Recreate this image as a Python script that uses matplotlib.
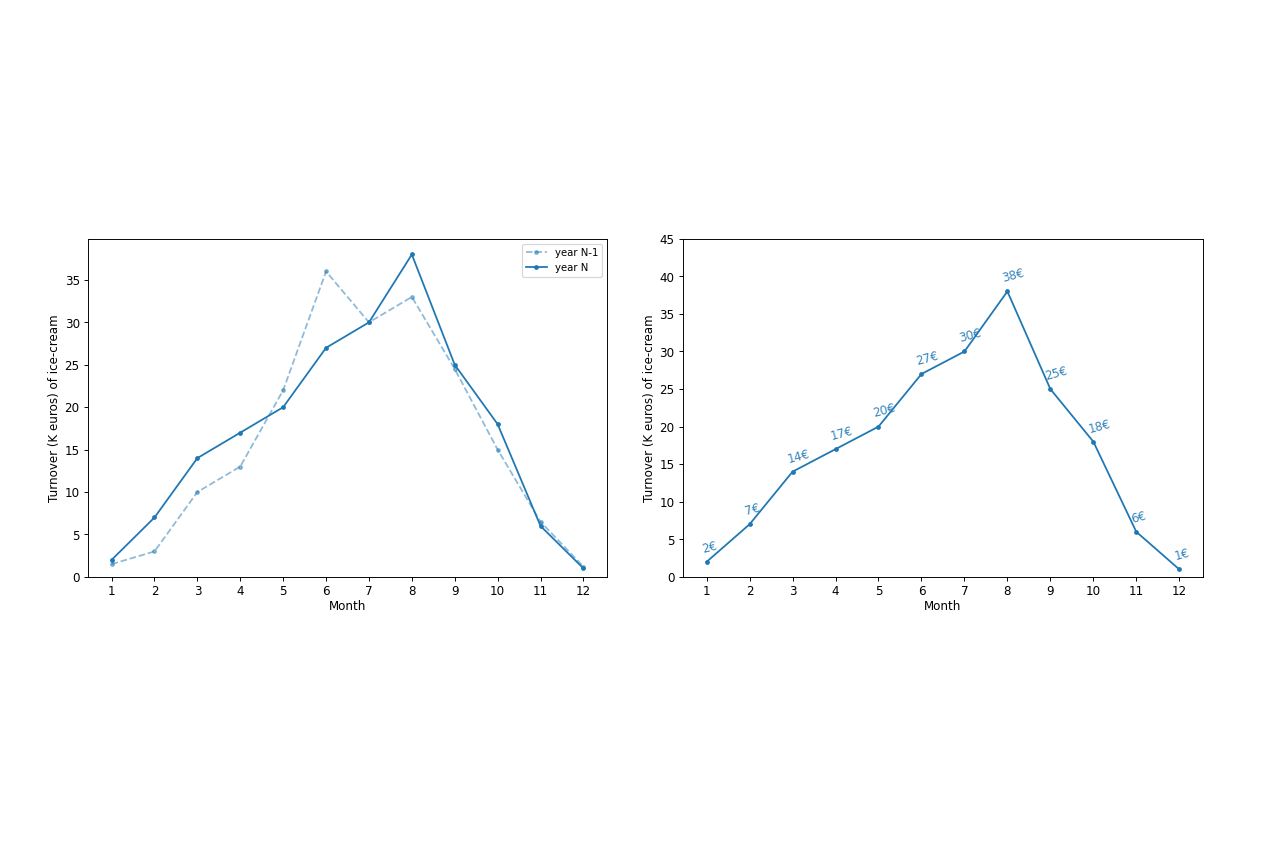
import matplotlib
matplotlib.use("Agg")
import matplotlib.pyplot as plt

# Data
months = list(range(1, 13))
turnover_prev = [1.5, 3, 10, 13, 22, 36, 30, 33, 24.5, 15, 6.5, 1.2]
turnover_curr = [2, 7, 14, 17, 20, 27, 30, 38, 25, 18, 6, 1]
right_yticks = [0, 5, 10, 15, 20, 25, 30, 35, 40, 45]

fig = plt.figure(figsize=(15, 10), dpi=85.33)

# Left: year N-1 vs year N
ax1 = fig.add_axes([0.06875, 0.3236, 0.4055, 0.3962])
ax1.plot(months, turnover_prev, marker='.', linestyle='--', color='C0',
         alpha=0.5, label='year N-1')
ax1.plot(months, turnover_curr, marker='.', color='C0', label='year N')
ax1.set_ylim(bottom=0)
ax1.set_xticks(months)
ax1.set_xlabel('Month', labelpad=1)
ax1.set_ylabel('Turnover (K euros) of ice-cream', labelpad=3)
ax1.legend(loc='upper right', fontsize=8.5)

# Right: year N with value labels
ax2 = fig.add_axes([0.5336, 0.3236, 0.4062, 0.3962])
ax2.plot(months, turnover_curr, marker='.', color='C0')
for m, v in zip(months, turnover_curr):
    ax2.annotate(f'{v}€', (m, v), xytext=(-5.5, 5.5), textcoords='offset points',
                 ha='left', va='bottom', rotation=15, color='C0', alpha=0.9)
ax2.set_ylim(0, 45)
ax2.set_yticks(right_yticks)
ax2.set_xticks(months)
ax2.set_xlabel('Month', labelpad=1)
ax2.set_ylabel('Turnover (K euros) of ice-cream', labelpad=3)

fig.savefig('out.png', dpi=85.33)
